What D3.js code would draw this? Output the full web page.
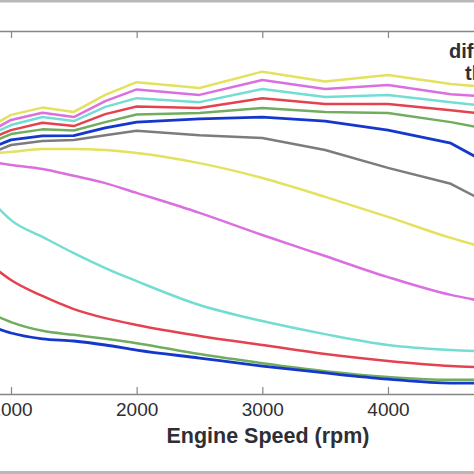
<!DOCTYPE html>
<html>
<head>
<meta charset="utf-8">
<script src="https://cdn.jsdelivr.net/npm/d3@7"></script>
<style>
  html, body { margin: 0; padding: 0; background: #fff; overflow: hidden; }
  svg { display: block; }
</style>
</head>
<body>
<svg id="chart" width="474" height="474"></svg>
<script>
// Engine speed samples (rpm)
const speeds = [900, 1000, 1250, 1500, 1750, 2000, 2500, 3000, 3500, 4000, 4500, 4700];
const xTicks = [1000, 2000, 3000, 4000];
const xLabel = "Engine Speed (rpm)";
const noteLines = ["different", "throttle"];

// Curves, from top to bottom (relative units, 0-100 over the plot height)
const yellowHigh  = [74.9, 76.9, 78.9, 77.7, 82.4, 85.9, 84.3, 88.8, 86.1, 87.9, 85.4, 84.8];
const magentaHigh = [73.6, 75.5, 77.5, 76.3, 80.7, 83.9, 82.4, 86.5, 84.0, 85.1, 82.6, 82.1];
const cyanHigh    = [72.5, 74.1, 76.3, 75.2, 79.1, 81.5, 80.4, 84.0, 81.8, 82.4, 80.4, 79.6];
const redHigh     = [71.3, 72.7, 74.7, 73.8, 77.1, 79.2, 78.8, 81.5, 79.9, 79.9, 78.2, 77.4];
const greenHigh   = [70.2, 71.6, 72.9, 72.6, 74.9, 77.0, 77.4, 78.8, 77.7, 77.4, 74.9, 73.6];
const blueHigh    = [68.6, 70.0, 71.1, 71.2, 73.3, 74.9, 75.8, 76.3, 75.2, 72.7, 69.1, 65.3];
const grayMid     = [67.2, 68.6, 69.7, 70.0, 71.3, 72.5, 71.3, 70.5, 67.2, 62.3, 57.9, 54.3];
const yellowLow   = [66.4, 66.7, 67.5, 67.5, 67.2, 66.4, 63.6, 59.5, 54.3, 48.8, 43.0, 41.0];
const magentaLow  = [63.6, 63.1, 62.0, 60.1, 58.1, 55.4, 49.9, 43.8, 38.0, 32.2, 27.3, 25.9];
const cyanLow     = [51.2, 47.9, 43.3, 38.8, 34.7, 31.1, 24.5, 20.1, 16.5, 13.5, 12.1, 11.8];
const redLow      = [33.9, 31.4, 27.0, 23.4, 20.9, 19.0, 16.0, 13.5, 11.0, 9.1, 7.7, 7.4];
const greenLow    = [21.2, 19.8, 17.4, 16.3, 15.2, 14.0, 11.0, 8.5, 6.3, 4.7, 3.9, 3.9];
const blueLow     = [17.9, 16.8, 15.2, 14.6, 13.5, 12.1, 9.9, 7.7, 5.8, 4.1, 3.0, 3.0];

const seriesValues = [yellowHigh, magentaHigh, cyanHigh, redHigh, greenHigh, blueHigh, grayMid,
                      yellowLow, magentaLow, cyanLow, redLow, greenLow, blueLow];
const seriesColors = ["#e2e25e", "#dc6fe0", "#74ddd2", "#e4424f", "#70ad5e", "#1538cc", "#7c7c7c",
                      "#e2e25e", "#dc6fe0", "#74ddd2", "#e4424f", "#70ad5e", "#1538cc"];

const svg = d3.select("#chart");
const W = 474, H = 474;
const plotTop = 31, plotBottom = 394;

const x = d3.scaleLinear().domain([900, 4800]).range([-1.57, 488.5]);
const y = d3.scaleLinear().domain([0, 100]).range([plotBottom, plotTop]);

// crop border bands
svg.append("rect").attr("x", 0).attr("y", 0).attr("width", W).attr("height", 2.5).attr("fill", "#b8b8b8");
svg.append("rect").attr("x", 0).attr("y", 471).attr("width", W).attr("height", 3).attr("fill", "#b8b8b8");

// lines: upper family drawn piecewise-linear, lower family smooth
const lineLin = d3.line().x((d, i) => x(speeds[i])).y(d => y(d));
const lineSmooth = d3.line().x((d, i) => x(speeds[i])).y(d => y(d)).curve(d3.curveMonotoneX);
svg.append("g").selectAll("path").data(seriesValues).join("path")
  .attr("d", (d, i) => i >= 7 ? lineSmooth(d) : lineLin(d))
  .attr("fill", "none")
  .attr("stroke", (d, i) => seriesColors[i])
  .attr("stroke-width", (d, i) => (i === 5 || i === 12) ? 2.8 : 2.5)
  .attr("stroke-linejoin", "round");

// bottom axis
const axB = svg.append("g").attr("transform", `translate(0,${plotBottom})`)
  .call(d3.axisBottom(x).tickValues(xTicks).tickSizeInner(-7).tickSizeOuter(0).tickPadding(8.5).tickFormat(d3.format("d")));
axB.select(".domain").attr("stroke", "#858585").attr("stroke-width", 1.5);
axB.selectAll(".tick line").attr("stroke", "#858585").attr("stroke-width", 1.2);
axB.selectAll(".tick text").attr("fill", "#2e2e33")
  .style("font-family", "'Liberation Sans', Arial, sans-serif").style("font-size", "19px");

// top axis (ticks only)
const axT = svg.append("g").attr("transform", `translate(0,${plotTop})`)
  .call(d3.axisTop(x).tickValues(xTicks).tickSizeInner(-7).tickSizeOuter(0).tickFormat(""));
axT.select(".domain").attr("stroke", "#858585").attr("stroke-width", 1.5);
axT.selectAll(".tick line").attr("stroke", "#858585").attr("stroke-width", 1.2);

// axis title
svg.append("text").attr("x", 268).attr("y", 443).attr("text-anchor", "middle")
  .attr("fill", "#2e2e36").style("font-family", "'Liberation Sans', Arial, sans-serif")
  .style("font-weight", "bold").style("font-size", "21.5px").text(xLabel);

// annotation (cut off at the right edge, as in the reference crop)
svg.append("text").attr("x", 449).attr("y", 57.5)
  .attr("fill", "#2e2e36").style("font-family", "'Liberation Sans', Arial, sans-serif")
  .style("font-weight", "bold").style("font-size", "20px").text(noteLines[0]);
svg.append("text").attr("x", 465).attr("y", 80)
  .attr("fill", "#2e2e36").style("font-family", "'Liberation Sans', Arial, sans-serif")
  .style("font-weight", "bold").style("font-size", "20px").text(noteLines[1]);
</script>
</body>
</html>
